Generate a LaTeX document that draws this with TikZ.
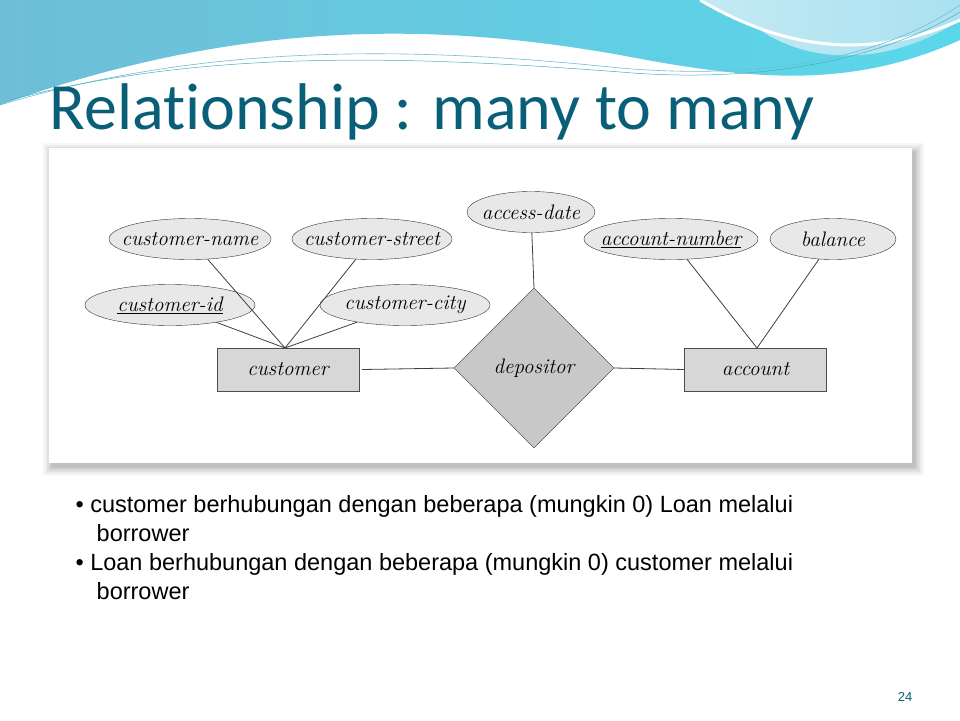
\documentclass[tikz,border=0pt]{standalone}
\usepackage{fontspec}
\setmainfont{Liberation Sans}
\newfontfamily\titlefont[Ligatures=NoCommon]{Carlito}
\newfontfamily\erfont{Latin Modern Roman}
\usetikzlibrary{shapes.geometric}
\definecolor{teal1}{RGB}{10,95,120}
\definecolor{wave1}{RGB}{110,190,215}
\definecolor{wave2}{RGB}{90,215,235}
\definecolor{wave3}{RGB}{170,225,240}
\definecolor{attrf}{RGB}{232,232,232}
\definecolor{entf}{RGB}{215,215,215}
\definecolor{relf}{RGB}{200,200,200}
\tikzset{
 attr/.style={ellipse,draw=black!80,fill=attrf,inner xsep=-16pt,inner ysep=0pt,minimum height=41pt,font=\erfont\itshape\fontsize{21}{23}\selectfont},
 ent/.style={rectangle,draw=black!70,fill=entf,minimum width=142pt,minimum height=43pt,font=\erfont\itshape\fontsize{21}{23}\selectfont},
 rel/.style={diamond,draw=black!80,fill=relf,inner sep=0pt,minimum width=160pt,minimum height=160pt,font=\erfont\itshape\fontsize{21}{23}\selectfont},
 ln/.style={draw=black!75,line width=0.8pt},
 bul/.style={anchor=north west,align=left,font=\fontsize{23.5}{29}\selectfont}
}
\begin{document}
\begin{tikzpicture}[x=1pt,y=-1pt]
\useasboundingbox (0,0) rectangle (960,720);
\fill[white] (0,0) rectangle (960,720);
% waves
\shade[left color=wave1,right color=wave2] (0,0) -- (960,0) -- (960,40) .. controls (850,90) and (750,80) .. (620,55) .. controls (450,25) and (250,15) .. (0,105) -- cycle;
\shade[left color=wave3!70!white,right color=wave3] (700,0) -- (960,0) -- (960,20) .. controls (900,60) and (820,70) .. (760,30) .. controls (730,15) and (710,5) .. (700,0) -- cycle;
\draw[white,line width=3pt] (700,0) .. controls (760,35) and (850,70) .. (960,20);
\draw[wave1,line width=0.6pt] (0,105) .. controls (200,45) and (400,45) .. (620,68) .. controls (760,80) and (880,60) .. (960,5);
\draw[wave2!80!black,line width=0.5pt] (10,100) .. controls (200,50) and (400,55) .. (620,72) .. controls (760,84) and (880,60) .. (960,12);
\node[anchor=west,text=teal1,font=\titlefont\fontsize{66}{68}\selectfont] (title) at (46,112) {Relationship : many to many};
% panel with soft shadow
\foreach \i/\o in {9/0.03,7/0.04,5/0.05,3/0.06,1/0.08}{
  \fill[black,opacity=\o] (49-\i+3,148-\i+4) rectangle (912+\i+3,463+\i+4);
}
\fill[white] (49,148) rectangle (912,463);
% ER
\node[attr,minimum width=162pt] (cname) at (190,239) {customer-name};
\node[attr,minimum width=160pt] (cstreet) at (372,239) {customer-street};
\node[attr,minimum width=170pt] (cid) at (170,305) {\underline{customer-id}};
\node[attr,minimum width=170pt] (ccity) at (405,305) {customer-city};
\node[attr,minimum width=128pt] (adate) at (531,212) {access-date};
\node[attr,minimum width=174pt] (anum) at (671,239) {\underline{account-number}};
\node[attr,minimum width=126pt] (bal) at (833,239) {balance};
\node[ent] (cust) at (288,369.5) {customer};
\node[ent] (acc) at (755.5,369.5) {account};
\node[rel] (dep) at (534,368) {depositor};
\coordinate (ct) at (285,348);
\coordinate (at) at (757,348);
\draw[ln] (cname) -- (ct) (cstreet) -- (ct) (cid) -- (ct) (ccity) -- (ct);
\draw[ln] (anum) -- (at) (bal) -- (at);
\draw[ln] (adate) -- (dep.north);
\draw[ln] (cust.east) ++(3,0) -- (dep.west);
\draw[ln] (dep.east) -- (acc.west);
% bullets
\node[bul] (b1) at (72,492) {• customer berhubungan dengan beberapa (mungkin 0) Loan melalui\\\hspace*{0.9em}borrower\\• Loan berhubungan dengan beberapa (mungkin 0) customer melalui\\\hspace*{0.9em}borrower};
\node[text=teal1,font=\fontsize{13}{14}\selectfont] (pg) at (905,697) {24};
\end{tikzpicture}
\end{document}
